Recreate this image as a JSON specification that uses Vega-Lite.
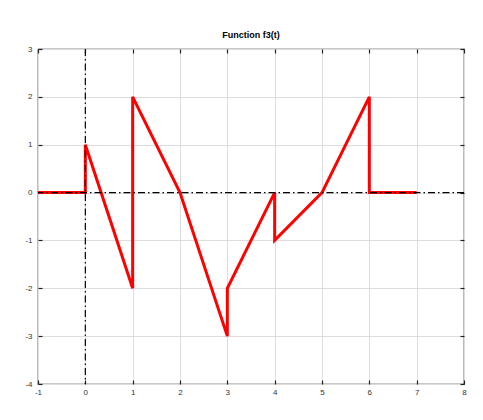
{
  "$schema": "https://vega.github.io/schema/vega-lite/v6.json",
  "width": 426,
  "height": 335,
  "autosize": {"type": "none"},
  "padding": {"left": 38, "top": 49, "right": 19, "bottom": 36},
  "title": {"text": "Function f3(t)", "font": "Liberation Sans", "fontSize": 9, "fontWeight": "bold", "color": "#000", "offset": 5, "anchor": "middle"},
  "config": {
    "view": {"stroke": "#222", "strokeWidth": 1.2},
    "axis": {"labelFont": "Liberation Sans", "labelFontSize": 8, "labelColor": "#333", "labelFlush": false, "labelOverlap": false, "gridColor": "#ddd", "gridWidth": 1, "domain": false, "tickColor": "#222", "tickSize": -4, "tickWidth": 1.2, "titleFontSize": 0,
      "labelExpr": "datum.value < 0 ? '-' + abs(datum.value) : '' + datum.value"}
  },
  "resolve": {"axis": {"x": "independent", "y": "independent"}},
  "layer": [
    {
      "data": {"values": [
        {"t": -1, "f": 0, "o": 0}, {"t": 0, "f": 0, "o": 1}, {"t": 0, "f": 1, "o": 2},
        {"t": 1, "f": -2, "o": 3}, {"t": 1, "f": 2, "o": 4}, {"t": 2, "f": 0, "o": 5},
        {"t": 3, "f": -3, "o": 6}, {"t": 3, "f": -2, "o": 7}, {"t": 4, "f": 0, "o": 8},
        {"t": 4, "f": -1, "o": 9}, {"t": 5, "f": 0, "o": 10}, {"t": 6, "f": 2, "o": 11},
        {"t": 6, "f": 0, "o": 12}, {"t": 7, "f": 0, "o": 13}
      ]},
      "mark": {"type": "line", "color": "#ff0000", "strokeWidth": 3, "strokeJoin": "miter"},
      "encoding": {
        "x": {"field": "t", "type": "quantitative", "scale": {"domain": [-1, 8], "nice": false, "zero": false}, "axis": {"title": null, "tickCount": 9, "labelPadding": 8, "grid": true, "orient": "bottom"}},
        "y": {"field": "f", "type": "quantitative", "scale": {"domain": [-4, 3], "nice": false, "zero": false}, "axis": {"title": null, "tickCount": 7, "labelPadding": 10, "grid": true, "orient": "left"}},
        "order": {"field": "o", "type": "quantitative"}
      }
    },
    {
      "data": {"values": [{"v": 0}]},
      "mark": {"type": "rule", "color": "#000", "strokeWidth": 1.2, "strokeDash": [7, 3, 1.5, 3]},
      "encoding": {
        "x": {"field": "v", "type": "quantitative", "axis": {"title": null, "orient": "top", "labels": false, "grid": false, "tickCount": 9}}
      }
    },
    {
      "data": {"values": [{"v": 0}]},
      "mark": {"type": "rule", "color": "#000", "strokeWidth": 1.2, "strokeDash": [7, 3, 1.5, 3]},
      "encoding": {
        "y": {"field": "v", "type": "quantitative", "axis": {"title": null, "orient": "right", "labels": false, "grid": false, "tickCount": 7}}
      }
    }
  ]
}
